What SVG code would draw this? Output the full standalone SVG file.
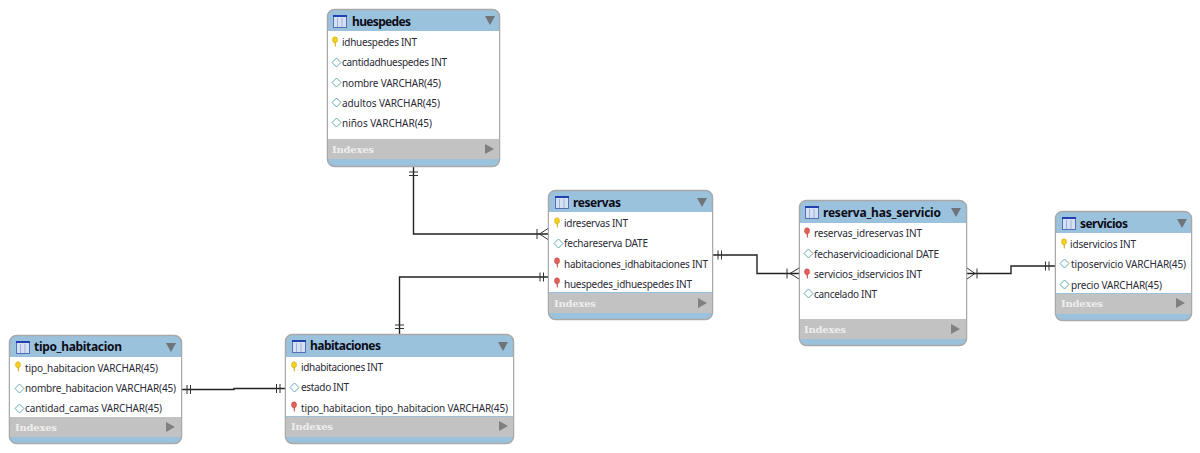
<svg xmlns="http://www.w3.org/2000/svg" width="1200" height="453" viewBox="0 0 1200 453">
<style>
.card{fill:#9bc2dc;stroke:#a9a9a9;stroke-width:1.5}
.body{fill:#fff}
.idx{fill:#c2c2c2}
.title{font:bold 12px "Noto Sans","DejaVu Sans",sans-serif;fill:#0c0c18}
.row{font:10px "Noto Sans","DejaVu Sans",sans-serif;fill:#2a2a35}
.ix{font:bold 10px "DejaVu Serif","Liberation Serif",serif;fill:#eeeeee}
.tri{fill:#6e7478}
.tri2{fill:#808080}
.c{fill:none;stroke:#222;stroke-width:1.4}
.m{fill:none;stroke:#333;stroke-width:1}
.dia{fill:#fff;stroke:#5fa8ae;stroke-width:1}
</style>
<defs>
<g id="tb"><rect x="0.500" y="0.500" width="13" height="12" fill="#d5e0f2" stroke="#5570b8"/><rect x="0" y="0" width="14" height="2" fill="#2340b0"/><path d="M4.500 3v9M9 3v9" stroke="#9fb0d8" stroke-width="1"/></g>
<g id="pk"><ellipse cx="3" cy="2.800" rx="2.500" ry="3" fill="#f2d21e" stroke="#d9a90f" stroke-width=".6"/><path d="M2.500 5h1.400v4.500H2.900z" fill="#d9b11a"/></g>
<g id="fk"><ellipse cx="3" cy="2.800" rx="2.500" ry="3" fill="#e0625a" stroke="#c9443c" stroke-width=".6"/><path d="M2.500 5h1.400v4.500H2.900z" fill="#c9544c"/></g>
<path id="d" class="dia" d="M4.500 0L9 4.500L4.500 9L0 4.500Z"/>
<path id="dn" class="tri" d="M0 0H10L5 9Z"/>
<path id="rt" class="tri2" d="M0 0L9 5L0 10Z"/>
</defs>
<rect width="1200" height="453" fill="#fff"/>

<g id="connectors">
<path class="c" d="M413.500 166V234H548"/>
<path class="m" d="M409 172H418M409 175.500H418M537 229V239M548 228.500L539.500 234L548 239.500"/>
<path class="c" d="M399.500 334V277H548"/>
<path class="m" d="M395 325H404M395 328.500H404M540 272.500V281.500M543.500 272.500V281.500"/>
<path class="c" d="M713 255H757V273.500H799"/>
<path class="m" d="M718 250.500V259.500M721.500 250.500V259.500M787 268.500V278.500M799 268L790 273.500L799 279"/>
<path class="c" d="M967 273.500H1011V266H1055"/>
<path class="m" d="M977 268.500V278.500M967 268L975 273.500L967 279M1045.500 261.500V270.500M1049 261.500V270.500"/>
<path class="c" d="M182 389.500H234V388.500H285"/>
<path class="m" d="M187 385V394M190.500 385V394M276.500 384V393M280 384V393"/>
</g>

<g id="huespedes">
<rect class="card" x="327.500" y="9.500" width="172" height="157" rx="7"/>
<rect class="body" x="328" y="31" width="171" height="108"/>
<rect class="idx" x="328" y="139" width="171" height="20"/>
<use href="#tb" x="333" y="15"/>
<text class="title" x="352" y="26" textLength="59">huespedes</text>
<use href="#dn" x="485" y="16"/>
<use href="#pk" x="332" y="37"/><text class="row" x="342" y="46" textLength="75">idhuespedes INT</text>
<use href="#d" x="332" y="58"/><text class="row" x="342" y="66" textLength="105">cantidadhuespedes INT</text>
<use href="#d" x="332" y="78"/><text class="row" x="342" y="87" textLength="99">nombre VARCHAR(45)</text>
<use href="#d" x="332" y="98"/><text class="row" x="342" y="107" textLength="98">adultos VARCHAR(45)</text>
<use href="#d" x="332" y="118"/><text class="row" x="342" y="127" textLength="90">niños VARCHAR(45)</text>
<text class="ix" x="332" y="153" textLength="42">Indexes</text>
<use href="#rt" x="485" y="144"/>
</g>

<g id="reservas">
<rect class="card" x="548.500" y="190.500" width="164" height="129" rx="7"/>
<rect class="body" x="549" y="212" width="163" height="80"/>
<rect class="idx" x="549" y="293" width="163" height="20"/>
<use href="#tb" x="555" y="196"/>
<text class="title" x="573" y="207" textLength="48">reservas</text>
<use href="#dn" x="697" y="198"/>
<use href="#pk" x="554" y="218"/><text class="row" x="564" y="227" textLength="64">idreservas INT</text>
<use href="#d" x="554" y="239"/><text class="row" x="564" y="247" textLength="84">fechareserva DATE</text>
<use href="#fk" x="554" y="258"/><text class="row" x="564" y="268" textLength="144">habitaciones_idhabitaciones INT</text>
<use href="#fk" x="554" y="278"/><text class="row" x="564" y="288" textLength="128">huespedes_idhuespedes INT</text>
<text class="ix" x="554" y="307" textLength="42">Indexes</text>
<use href="#rt" x="698" y="298"/>
</g>

<g id="reserva_has_servicio">
<rect class="card" x="799.500" y="200.500" width="167" height="145" rx="7"/>
<rect class="body" x="800" y="223" width="166" height="96"/>
<rect class="idx" x="800" y="319" width="166" height="20"/>
<use href="#tb" x="805" y="206"/>
<text class="title" x="823" y="217" textLength="118">reserva_has_servicio</text>
<use href="#dn" x="951" y="208"/>
<use href="#fk" x="804" y="228"/><text class="row" x="814" y="237" textLength="108">reservas_idreservas INT</text>
<use href="#d" x="804" y="249"/><text class="row" x="814" y="258" textLength="125">fechaservicioadicional DATE</text>
<use href="#fk" x="804" y="269"/><text class="row" x="814" y="278" textLength="108">servicios_idservicios INT</text>
<use href="#d" x="804" y="289"/><text class="row" x="814" y="298" textLength="63">cancelado INT</text>
<text class="ix" x="804" y="333" textLength="42">Indexes</text>
<use href="#rt" x="951" y="324"/>
</g>

<g id="servicios">
<rect class="card" x="1055.500" y="211.500" width="136" height="109" rx="7"/>
<rect class="body" x="1056" y="233" width="135" height="60"/>
<rect class="idx" x="1056" y="294" width="135" height="20"/>
<use href="#tb" x="1062" y="217"/>
<text class="title" x="1080" y="228" textLength="48">servicios</text>
<use href="#dn" x="1177" y="219"/>
<use href="#pk" x="1061" y="239"/><text class="row" x="1070" y="248" textLength="66">idservicios INT</text>
<use href="#d" x="1060" y="259"/><text class="row" x="1071" y="268" textLength="115">tiposervicio VARCHAR(45)</text>
<use href="#d" x="1060" y="280"/><text class="row" x="1071" y="289" textLength="91">precio VARCHAR(45)</text>
<text class="ix" x="1061" y="307" textLength="42">Indexes</text>
<use href="#rt" x="1176" y="298"/>
</g>

<g id="tipo_habitacion">
<rect class="card" x="9.500" y="335.500" width="172" height="108" rx="7"/>
<rect class="body" x="10" y="357" width="171" height="60"/>
<rect class="idx" x="10" y="417" width="171" height="20"/>
<use href="#tb" x="16" y="341"/>
<text class="title" x="34" y="351" textLength="88">tipo_habitacion</text>
<use href="#dn" x="166" y="343"/>
<use href="#pk" x="15" y="362"/><text class="row" x="25" y="372" textLength="133">tipo_habitacion VARCHAR(45)</text>
<use href="#d" x="15" y="384"/><text class="row" x="25" y="392" textLength="151">nombre_habitacion VARCHAR(45)</text>
<use href="#d" x="15" y="404"/><text class="row" x="25" y="412" textLength="137">cantidad_camas VARCHAR(45)</text>
<text class="ix" x="15" y="431" textLength="42">Indexes</text>
<use href="#rt" x="166" y="422"/>
</g>

<g id="habitaciones">
<rect class="card" x="285.500" y="334.500" width="228" height="109" rx="7"/>
<rect class="body" x="286" y="357" width="227" height="59"/>
<rect class="idx" x="286" y="417" width="227" height="20"/>
<use href="#tb" x="292" y="340"/>
<text class="title" x="310" y="350" textLength="71">habitaciones</text>
<use href="#dn" x="498" y="342"/>
<use href="#pk" x="291" y="362"/><text class="row" x="301" y="371" textLength="82">idhabitaciones INT</text>
<use href="#d" x="290" y="383"/><text class="row" x="301" y="391" textLength="48">estado INT</text>
<use href="#fk" x="291" y="402"/><text class="row" x="301" y="412" textLength="207">tipo_habitacion_tipo_habitacion VARCHAR(45)</text>
<text class="ix" x="291" y="430" textLength="42">Indexes</text>
<use href="#rt" x="499" y="421"/>
</g>
</svg>
